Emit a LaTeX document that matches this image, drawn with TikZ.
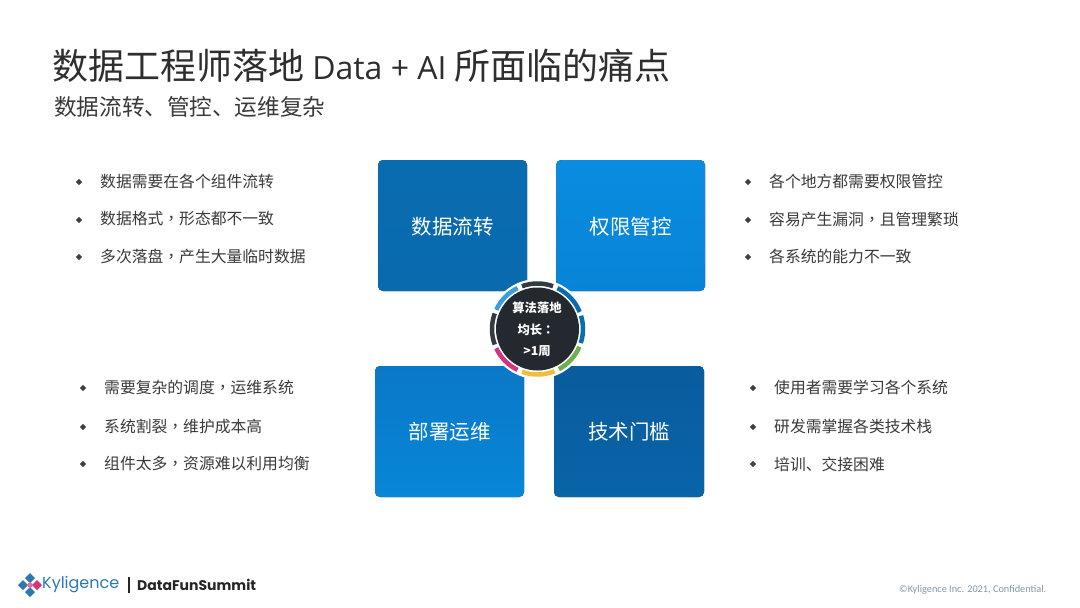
\documentclass[tikz,border=0pt]{standalone}
\usepackage{fontspec}
\setmainfont{Noto Sans CJK SC}
\newfontfamily\tcf{Noto Sans CJK TC}
\newfontfamily\latinf{Open Sans}
\newfontfamily\logof{Poppins}
\newfontfamily\copyf{Carlito}
\usetikzlibrary{calc}
\definecolor{txt}{HTML}{3A3A3A}
\definecolor{ringdark}{HTML}{333B42}
\definecolor{ringblue}{HTML}{0A6CB0}
\definecolor{ringlight}{HTML}{3D9CDC}
\definecolor{ringgreen}{HTML}{6DB04C}
\definecolor{ringyellow}{HTML}{F0BE3C}
\definecolor{ringpink}{HTML}{D2347F}
\definecolor{hub}{HTML}{23292E}
\definecolor{logoblue}{HTML}{2C78B4}
\definecolor{copygrey}{HTML}{8398A8}
\tikzset{x=1pt,y=-1pt,
 bullet/.style={anchor=west,text=txt,font=\fontsize{15.8}{16}\selectfont,inner sep=0},
 quadtext/.style={text=white,font=\fontsize{20.5}{20.5}\selectfont,inner sep=0},
 hubtext/.style={text=white,font=\fontsize{12.3}{12.3}\selectfont\bfseries,inner sep=0},
 seg/.style={line width=4.5pt}
}
\newcommand{\bul}[2]{%
 \fill[black!75] (#1-3.2,#2) -- (#1,#2-3.2) -- (#1+3.2,#2) -- (#1,#2+3.2) -- cycle;
}
\newcommand{\seg}[3]{\draw[seg,#1] ($(537.5,329)+(#2:45.5pt)$) arc[start angle=#2,end angle=#3,radius=45.5pt];}
\newcommand{\cm}{{\tcf ，}}
\begin{document}
\begin{tikzpicture}
\useasboundingbox[fill=white] (0,0) rectangle (1080,608);
\node[anchor=west,inner sep=0,text=txt!80!black,font=\fontsize{36}{36}\selectfont] (title) at (52,66) {数据工程师落地 {\latinf\fontsize{32}{32}\selectfont Data + AI} 所面临的痛点};
\node[anchor=west,inner sep=0,text=txt,font=\fontsize{22.6}{22.6}\selectfont] (sub) at (54,107) {数据流转、管控、运维复杂};

\fill[rounded corners=5pt,top color={rgb,255:red,10;green,108;blue,176},bottom color={rgb,255:red,9;green,106;blue,174}] (378,160) rectangle (527,291);
\node[quadtext] (q1) at (452.5,227) {数据流转};
\fill[rounded corners=5pt,top color={rgb,255:red,10;green,140;blue,224},bottom color={rgb,255:red,8;green,132;blue,214}] (556,160) rectangle (705,291);
\node[quadtext] (q2) at (630.5,227) {权限管控};
\fill[rounded corners=5pt,top color={rgb,255:red,10;green,120;blue,198},bottom color={rgb,255:red,8;green,134;blue,216}] (375,366) rectangle (524,497);
\node[quadtext] (q3) at (449.5,432) {部署运维};
\fill[rounded corners=5pt,top color={rgb,255:red,9;green,92;blue,158},bottom color={rgb,255:red,9;green,100;blue,168}] (554,366) rectangle (704,497);
\node[quadtext] (q4) at (629,432) {技术门槛};

% hub
\fill[white] (537.5,329) circle (50);
\fill[hub] (537.5,329) circle (41.5);
\seg{ringdark}{70}{110}
\seg{ringblue}{22}{64}
\seg{ringblue}{-18}{17}
\seg{ringgreen}{-62}{-23}
\seg{ringyellow}{-110}{-68}
\seg{ringpink}{-155}{-116}
\seg{ringdark}{-200}{-160}
\seg{ringlight}{116}{155}
\node[hubtext] (h1) at (537,307.5) {算法落地};
\node[hubtext] (h2) at (536,330) {均长{\tcf ：}};
\node[hubtext] (h3) at (537,351.5) {>1周};

\bul{79}{182}\node[bullet] (a1) at (100,181) {数据需要在各个组件流转};
\bul{79}{220}\node[bullet] (a2) at (100,219) {数据格式\cm 形态都不一致};
\bul{79}{257}\node[bullet] (a3) at (100,256) {多次落盘\cm 产生大量临时数据};
\bul{748}{182}\node[bullet] (b1) at (769,181) {各个地方都需要权限管控};
\bul{748}{220}\node[bullet] (b2) at (769,219) {容易产生漏洞\cm 且管理繁琐};
\bul{748}{257}\node[bullet] (b3) at (769,256) {各系统的能力不一致};
\bul{83}{388}\node[bullet] (c1) at (104,387.5) {需要复杂的调度\cm 运维系统};
\bul{83}{427}\node[bullet] (c2) at (104,426.5) {系统割裂\cm 维护成本高};
\bul{83}{464}\node[bullet] (c3) at (104,464) {组件太多\cm 资源难以利用均衡};
\bul{753}{388}\node[bullet] (d1) at (774,387.5) {使用者需要学习各个系统};
\bul{753}{427}\node[bullet] (d2) at (774,426.5) {研发需掌握各类技术栈};
\bul{753}{464}\node[bullet] (d3) at (774,464) {培训、交接困难};

% logo
\foreach \cx/\cy/\c in {23/585/logoblue,30/578/logoblue,30/592/logoblue,37/585/ringpink}{
  \fill[\c] (\cx-5,\cy) -- (\cx,\cy-5) -- (\cx+5,\cy) -- (\cx,\cy+5) -- cycle;}
\fill[ringpink!70!white] (26.5,585) -- (30,581.5) -- (33.5,585) -- (30,588.5) -- cycle;
\node[anchor=west,inner sep=0,text=logoblue,font=\logof\fontsize{16}{16}\selectfont] (ky) at (42,585) {Kyligence};
\fill[black!85] (127.5,577) rectangle (129.5,593);
\node[anchor=west,inner sep=0,text=black!85,font=\logof\fontsize{14}{14}\selectfont\bfseries] (df) at (137,585) {DataFunSummit};
\node[anchor=west,inner sep=0,text=copygrey,font=\copyf\fontsize{10.3}{10.3}\selectfont] (cp) at (899,590) {©Kyligence Inc. 2021, Confidential.};
\end{tikzpicture}
\end{document}
